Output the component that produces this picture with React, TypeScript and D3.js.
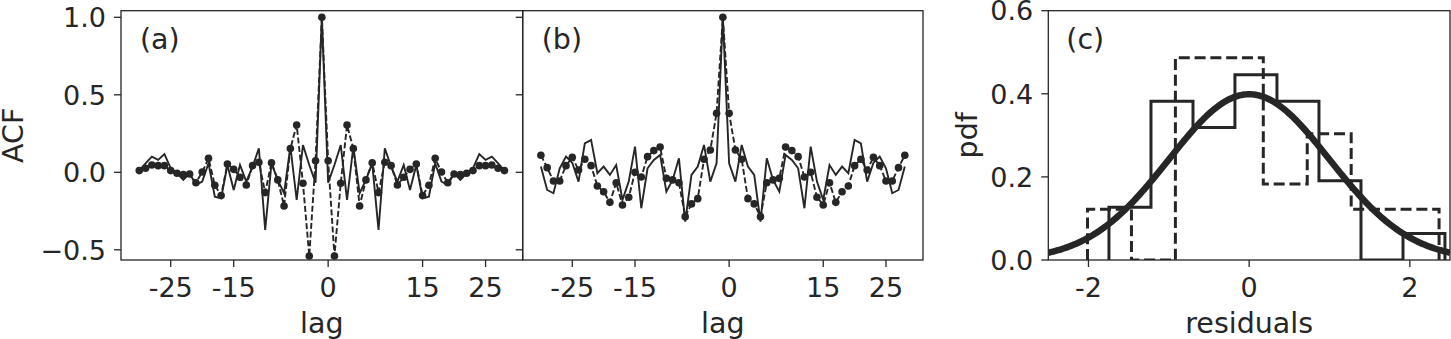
import React from "react";
import * as d3 from "d3";

// ---------- data ----------
const lags: number[] = d3.range(-30, 29);
const lagTicks = [-25, -15, 0, 15, 25];
const acfTicks = [-0.5, 0, 0.5, 1.0];

const acfA_model = [0.011, 0.026, 0.047, 0.043, 0.043, 0.011, -0.006, -0.015, -0.011, -0.067, 0.002, 0.090, -0.084, -0.150, 0.054, 0.019, -0.032, -0.082, 0.043, 0.065, -0.131, 0.062, -0.049, -0.217, 0.153, 0.305, -0.071, -0.540, 0.075,
  1.0,
  0.075, -0.540, -0.071, 0.305, 0.153, -0.217, -0.049, 0.062, -0.131, 0.065, 0.043, -0.082, -0.032, 0.019, 0.054, -0.150, -0.084, 0.090, 0.002, -0.067, -0.011, -0.015, -0.006, 0.011, 0.043, 0.043, 0.047, 0.026, 0.011];
const acfA_data = [0.011, 0.058, 0.101, 0.080, 0.118, 0.026, -0.006, -0.049, -0.006, -0.082, -0.060, 0.058, -0.157, -0.168, 0.047, -0.114, 0.047, -0.060, 0.037, 0.155, -0.372, 0.058, -0.049, -0.135, 0.166, -0.178, 0.176, 0.047, -0.067,
  1.0,
  -0.067, 0.047, 0.176, -0.178, 0.166, -0.135, -0.049, 0.058, -0.372, 0.155, 0.037, -0.060, 0.047, -0.114, 0.047, -0.168, -0.157, 0.058, -0.060, -0.082, -0.006, -0.049, -0.006, 0.026, 0.118, 0.080, 0.101, 0.058, 0.011];
const acfB_model = [0.110, 0.030, -0.056, -0.056, 0.043, 0.097, 0.015, 0.084, 0.043, -0.088, -0.125, -0.194, -0.067, -0.211, -0.161, 0.000, -0.030, 0.101, 0.140, 0.163, -0.039, -0.049, -0.067, -0.286, -0.204, -0.170, 0.084, 0.144, 0.381,
  1.0,
  0.381, 0.144, 0.084, -0.170, -0.204, -0.286, -0.067, -0.049, -0.039, 0.163, 0.140, 0.101, -0.030, 0.000, -0.161, -0.211, -0.067, -0.194, -0.125, -0.088, 0.043, 0.084, 0.015, 0.097, 0.043, -0.056, -0.056, 0.030, 0.110];
const acfB_data = [0.037, -0.114, -0.135, 0.026, 0.101, 0.062, -0.060, 0.187, 0.209, -0.006, 0.037, -0.017, 0.047, -0.178, -0.060, 0.166, -0.232, 0.026, 0.080, 0.112, -0.125, -0.049, 0.090, -0.318, -0.017, 0.037, 0.176, -0.060, 0.058,
  1.0,
  0.058, -0.060, 0.176, 0.037, -0.017, -0.318, 0.090, -0.049, -0.125, 0.112, 0.080, 0.026, -0.232, 0.166, -0.060, -0.178, 0.047, -0.017, 0.037, -0.006, 0.209, 0.187, -0.060, 0.062, 0.101, 0.026, -0.135, -0.114, 0.037];

const residTicks = [-2, 0, 2];
const pdfTicks = [0.0, 0.2, 0.4, 0.6];
const histSolidEdges = [-1.745, -1.222, -0.699, -0.177, 0.346, 0.869, 1.392, 1.915, 2.437];
const histSolidHeights = [0.127, 0.382, 0.319, 0.446, 0.382, 0.191, 0.0, 0.064];
const histDashedEdges = [-2.012, -1.465, -0.918, -0.371, 0.176, 0.723, 1.270, 1.817, 2.364];
const histDashedHeights = [0.122, 0.0, 0.487, 0.487, 0.183, 0.304, 0.122, 0.122];
const normalMu = 0;
const normalSigma = 1;

// ---------- layout ----------
const TOP = 10.7;
const BOTTOM = 260;
const INK = "#262626";
const FONT = "DejaVu Sans, sans-serif";
const TICK_FS = 27;
const LABEL_FS = 28.5;

function AcfPanel({ x0, x1, model, data, label, showY }: any) {
  const x = d3.scaleLinear().domain([-32.9, 30.9]).range([x0, x1]);
  const y = d3.scaleLinear().domain([-0.5658, 1.0426]).range([BOTTOM, TOP]);
  const line = d3.line<number>().x((_, i) => x(lags[i])).y((d) => y(d));
  return (
    <g>
      <path d={line(data) || ""} fill="none" stroke={INK} strokeWidth={1.9} strokeLinejoin="miter" />
      <path d={line(model) || ""} fill="none" stroke={INK} strokeWidth={1.9} strokeDasharray="6,2.6" />
      {model.map((d: number, i: number) => (
        <circle key={i} cx={x(lags[i])} cy={y(d)} r={3.8} fill={INK} />
      ))}
      <rect x={x0} y={TOP} width={x1 - x0} height={BOTTOM - TOP} fill="none" stroke={INK} strokeWidth={1.3} />
      {acfTicks.map((t) => (
        <g key={t}>
          <line x1={x0 - 7} x2={x0} y1={y(t)} y2={y(t)} stroke={INK} strokeWidth={1.3} />
          {showY && (
            <text x={x0 - 15} y={y(t)} dy="0.36em" textAnchor="end" fontSize={TICK_FS} fill={INK} fontFamily={FONT}>
              {d3.format(".1f")(t).replace("-", "\u2212")}
            </text>
          )}
        </g>
      ))}
      {lagTicks.map((t) => (
        <g key={t}>
          <line x1={x(t)} x2={x(t)} y1={BOTTOM} y2={BOTTOM + 7} stroke={INK} strokeWidth={1.3} />
          <text x={x(t)} y={297} textAnchor="middle" fontSize={TICK_FS} fill={INK} fontFamily={FONT}>
            {String(t)}
          </text>
        </g>
      ))}
      <text x={(x0 + x1) / 2} y={333} textAnchor="middle" fontSize={LABEL_FS} fill={INK} fontFamily={FONT}>lag</text>
      <text x={x0 + 19} y={48.5} fontSize={LABEL_FS} fill={INK} fontFamily={FONT}>{label}</text>
    </g>
  );
}

function HistPanel() {
  const x0 = 1048.3, x1 = 1450;
  const x = d3.scaleLinear().domain([-2.5, 2.5]).range([x0, x1]);
  const y = d3.scaleLinear().domain([0, 0.6]).range([BOTTOM, TOP]);
  const stepPath = (edges: number[], h: number[]) => {
    const pts: [number, number][] = [[x(edges[0]), y(0)]];
    h.forEach((v, i) => {
      pts.push([x(edges[i]), y(v)]);
      pts.push([x(edges[i + 1]), y(v)]);
    });
    pts.push([x(edges[edges.length - 1]), y(0)]);
    return d3.line()(pts) || "";
  };
  const xs = d3.range(-2.5, 2.5001, 0.02);
  const gauss = (v: number) =>
    Math.exp(-0.5 * ((v - normalMu) / normalSigma) ** 2) / (normalSigma * Math.sqrt(2 * Math.PI));
  const curve = d3.line<number>().x((v) => x(v)).y((v) => y(gauss(v)))(xs) || "";
  return (
    <g>
      <defs>
        <clipPath id="clipc">
          <rect x={x0} y={TOP} width={x1 - x0} height={BOTTOM - TOP} />
        </clipPath>
      </defs>
      <g clipPath="url(#clipc)">
        <path d={stepPath(histSolidEdges, histSolidHeights)} fill="none" stroke={INK} strokeWidth={3} strokeLinejoin="miter" />
        <path d={stepPath(histDashedEdges, histDashedHeights)} fill="none" stroke={INK} strokeWidth={3} strokeDasharray="11,4.8" />
        <path d={curve} fill="none" stroke={INK} strokeWidth={6.5} />
      </g>
      <rect x={x0} y={TOP} width={x1 - x0} height={BOTTOM - TOP} fill="none" stroke={INK} strokeWidth={1.3} />
      {pdfTicks.map((t) => (
        <g key={t}>
          <line x1={x0 - 7} x2={x0} y1={y(t)} y2={y(t)} stroke={INK} strokeWidth={1.3} />
          <text x={x0 - 15} y={y(t)} dy="0.36em" textAnchor="end" fontSize={TICK_FS} fill={INK} fontFamily={FONT}>
            {d3.format(".1f")(t)}
          </text>
        </g>
      ))}
      {residTicks.map((t) => (
        <g key={t}>
          <line x1={x(t)} x2={x(t)} y1={BOTTOM} y2={BOTTOM + 7} stroke={INK} strokeWidth={1.3} />
          <text x={x(t)} y={297} textAnchor="middle" fontSize={TICK_FS} fill={INK} fontFamily={FONT}>
            {String(t)}
          </text>
        </g>
      ))}
      <text x={(x0 + x1) / 2} y={332.5} textAnchor="middle" fontSize={LABEL_FS} fill={INK} fontFamily={FONT}>residuals</text>
      <text transform={`translate(977,135.3) rotate(-90)`} textAnchor="middle" fontSize={LABEL_FS} fill={INK} fontFamily={FONT}>pdf</text>
      <text x={x0 + 18} y={48.5} fontSize={LABEL_FS} fill={INK} fontFamily={FONT}>(c)</text>
    </g>
  );
}

export default function App() {
  return (
    <svg width={1451} height={339} style={{ position: "absolute", left: 0, top: 0, background: "#fff" }}>
      <rect width={1451} height={339} fill="#fff" />
      <AcfPanel x0={121} x1={522.7} model={acfA_model} data={acfA_data} label="(a)" showY={true} />
      <AcfPanel x0={522.7} x1={923} model={acfB_model} data={acfB_data} label="(b)" showY={false} />
      <text transform={`translate(22.5,135.3) rotate(-90)`} textAnchor="middle" fontSize={LABEL_FS} fill={INK} fontFamily={FONT}>ACF</text>
      <HistPanel />
    </svg>
  );
}
